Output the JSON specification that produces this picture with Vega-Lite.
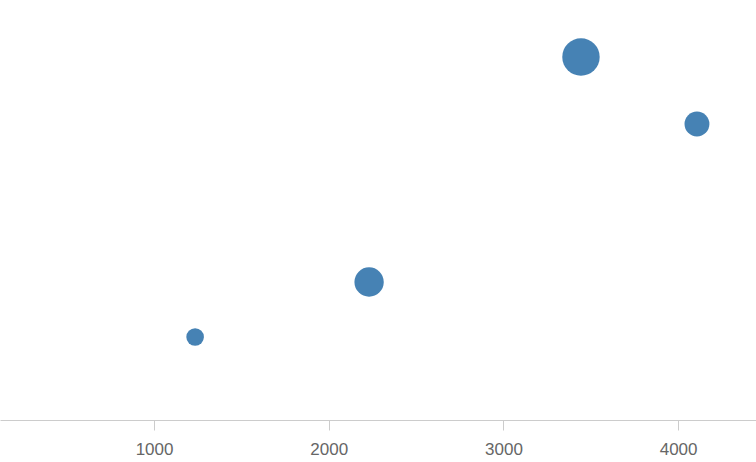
{
  "$schema": "https://vega.github.io/schema/vega-lite/v6.json",
  "width": 756,
  "height": 420,
  "padding": {"left": 0, "right": 0, "top": 0, "bottom": 42},
  "autosize": {"type": "none"},
  "data": {
    "values": [
      {"x": 1235, "y": 83, "value": 31},
      {"x": 2231, "y": 138, "value": 86},
      {"x": 3444, "y": 363, "value": 140},
      {"x": 4108, "y": 296, "value": 62}
    ]
  },
  "mark": {"type": "circle", "color": "#4682b4", "opacity": 1},
  "encoding": {
    "x": {
      "field": "x",
      "type": "quantitative",
      "scale": {"domain": [118, 4446], "nice": false, "zero": false},
      "axis": {
        "title": null,
        "grid": false,
        "values": [1000, 2000, 3000, 4000],
        "format": "d",
        "domainColor": "#cccccc",
        "tickColor": "#cccccc",
        "tickSize": 10,
        "labelFontSize": 17,
        "labelFont": "Liberation Sans",
        "labelColor": "#666666",
        "labelPadding": 11
      }
    },
    "y": {
      "field": "y",
      "type": "quantitative",
      "scale": {"domain": [0, 420], "nice": false},
      "axis": null
    },
    "size": {
      "field": "value",
      "type": "quantitative",
      "scale": {"domain": [0, 100], "range": [0, 1000]},
      "legend": null
    }
  },
  "config": {"view": {"stroke": null}}
}
